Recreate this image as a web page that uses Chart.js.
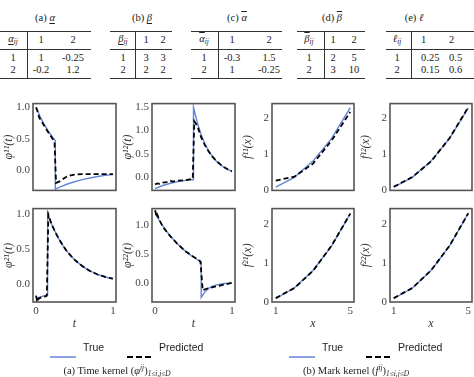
<!DOCTYPE html>
<html><head><meta charset="utf-8">
<script src="https://cdn.jsdelivr.net/npm/chart.js@4/dist/chart.umd.min.js"></script>
<style>
body{margin:0;width:474px;height:377px;position:relative;overflow:hidden;background:#fff;font-family:"Liberation Serif",serif;color:#222}
.abs{position:absolute;white-space:nowrap}
.c{transform:translateX(-50%)}
.tx{font-size:10.5px;line-height:12px}
.rule{position:absolute;background:#333}
sub{font-size:70%;vertical-align:-2px;line-height:0}
sup{font-size:70%;vertical-align:4px;line-height:0}
.i{font-style:italic}
.ul{text-decoration:underline;text-underline-offset:2px}
.ol{text-decoration:overline}
.leg{font-family:"Liberation Sans",sans-serif;font-size:10.5px;line-height:12px}
</style>
</head><body>
<script>
// ---------------- data ----------------
// parameter tables
const alphaLow  = [[1, -0.25], [-0.2, 1.2]];
const betaLow   = [[3, 3], [2, 2]];
const alphaHigh = [[-0.3, 1.5], [1, -0.25]];
const betaHigh  = [[2, 5], [3, 10]];
const ellTable  = [[0.25, 0.5], [0.15, 0.6]];
const tableCols = ['1', '2'];
const tableRows = ['1', '2'];

// time kernels (true / predicted)
const t11True = [0,0.05,0.1,0.15,0.2,0.25,0.25,0.3,0.4,0.5,0.6,0.7,0.8,0.9,1.0];
const v11True = [1.0,0.861,0.741,0.638,0.549,0.472,-0.300,-0.271,-0.222,-0.182,-0.149,-0.122,-0.100,-0.082,-0.067];
const t11Pred = [0,0.02,0.04,0.1,0.15,0.2,0.24,0.26,0.3,0.35,0.4,0.45,0.5,0.6,0.8,1.0];
const v11Pred = [1.0,0.93,0.84,0.72,0.62,0.53,0.45,-0.20,-0.18,-0.14,-0.10,-0.08,-0.07,-0.06,-0.06,-0.06];

const t12True = [0,0.1,0.2,0.3,0.4,0.5,0.5,0.55,0.6,0.65,0.7,0.75,0.8,0.85,0.9,0.95,1.0];
const v12True = [-0.25,-0.185,-0.137,-0.102,-0.075,-0.056,1.5,1.168,0.910,0.709,0.552,0.430,0.335,0.261,0.203,0.158,0.123];
const t12Pred = [0,0.03,0.06,0.1,0.15,0.2,0.22,0.3,0.4,0.49,0.51,0.55,0.6,0.65,0.7,0.75,0.8,0.85,0.9,0.95,1.0];
const v12Pred = [-0.16,-0.14,-0.15,-0.12,-0.11,-0.08,-0.10,-0.08,-0.07,-0.04,1.2,1.1,0.85,0.68,0.54,0.43,0.34,0.27,0.21,0.16,0.12];

const t21True = [0,0.05,0.1,0.15,0.15,0.2,0.25,0.3,0.35,0.4,0.5,0.6,0.7,0.8,0.9,1.0];
const v21True = [-0.2,-0.181,-0.164,-0.148,1.0,0.861,0.741,0.638,0.549,0.472,0.350,0.259,0.192,0.142,0.105,0.078];
const t21Pred = [0,0.01,0.02,0.03,0.05,0.1,0.14,0.16,0.2,0.25,0.3,0.35,0.4,0.5,0.6,0.7,0.8,0.9,1.0];
const v21Pred = [-0.16,-0.22,-0.18,-0.21,-0.19,-0.18,-0.16,0.99,0.86,0.74,0.64,0.55,0.47,0.35,0.26,0.19,0.14,0.105,0.08];

const t22True = [0,0.1,0.2,0.3,0.4,0.5,0.6,0.6,0.65,0.7,0.75,0.8,0.9,1.0];
const v22True = [1.2,0.982,0.804,0.659,0.539,0.441,0.361,-0.25,-0.152,-0.092,-0.056,-0.034,-0.012,-0.005];
const t22Pred = [0,0.01,0.02,0.03,0.05,0.1,0.15,0.2,0.3,0.4,0.5,0.59,0.62,0.65,0.7,0.8,0.9,1.0];
const v22Pred = [1.25,1.2,1.13,1.17,1.1,0.97,0.88,0.8,0.66,0.54,0.45,0.37,-0.13,-0.11,-0.09,-0.06,-0.03,0.0];

// mark kernels
const markX   = [1, 2, 3, 4, 5];
const f11True = [0.09, 0.36, 0.81, 1.44, 2.29];
const f11Pred = [0.27, 0.38, 0.74, 1.38, 2.17];
const f12True = [0.09, 0.36, 0.81, 1.44, 2.28];
const f12Pred = [0.10, 0.37, 0.80, 1.45, 2.30];
const f21True = [0.09, 0.36, 0.81, 1.44, 2.27];
const f21Pred = [0.10, 0.36, 0.80, 1.45, 2.27];
const f22True = [0.09, 0.36, 0.81, 1.44, 2.28];
const f22Pred = [0.10, 0.36, 0.81, 1.45, 2.28];

// ticks
const phiXTicks = [0, 1], phiXLabels = ['0', '1'];
const markXTicks = [1, 5], markXLabels = ['1', '5'];
const phiYTicks = [0, 0.5, 1.0], phiYLabels = ['0.0', '0.5', '1.0'];
const phi12YTicks = [0, 0.5, 1.0, 1.5], phi12YLabels = ['0.0', '0.5', '1.0', '1.5'];
const markYTicks = [0, 1, 2], markYLabels = ['0', '1', '2'];

// ---------------- tables ----------------
function el(html, cls, left, top, extra) {
  const d = document.createElement('div');
  d.className = 'abs ' + (cls || '');
  d.style.left = left + 'px'; d.style.top = top + 'px';
  if (extra) Object.assign(d.style, extra);
  d.innerHTML = html;
  document.body.appendChild(d);
  return d;
}
function rule(left, top, w, h) {
  const d = document.createElement('div');
  d.className = 'rule';
  Object.assign(d.style, {left: left + 'px', top: top + 'px', width: w + 'px', height: h + 'px'});
  document.body.appendChild(d);
}
function table(cfg) {
  const w = cfg.right - cfg.left;
  el(cfg.caption, 'tx c', cfg.capX, 12);
  rule(cfg.left, 30.5, w, 1.4);
  rule(cfg.left, 48.5, w, 0.8);
  rule(cfg.left, 78, w, 1.4);
  rule(cfg.barX, 32, 0.8, 16.5);
  rule(cfg.barX, 49.5, 0.8, 28.5);
  const cls = cfg.leftAlign ? 'tx' : 'tx c';
  el(cfg.head, 'tx c', cfg.headX, 33);
  tableCols.forEach((c, j) => el(c, cfg.leftAlign ? 'tx' : 'tx c', cfg.hdrX[j], 34));
  tableRows.forEach((r, i) => {
    const y = i === 0 ? 52 : 64;
    el(r, 'tx c', cfg.headX, y);
    cfg.data[i].forEach((v, j) => el(String(v), cls, cfg.colX[j], y));
  });
}
table({left:0, right:91, capX:45, caption:'(a) <span class="i ul">α</span>', head:'<span class="i ul">α</span><sub class="i">ij</sub>',
  headX:13, barX:27, hdrX:[41,73], colX:[41,73], data:alphaLow});
table({left:110, right:172, capX:142, caption:'(b) <span class="i ul">β</span>', head:'<span class="i ul">β</span><sub class="i">ij</sub>',
  headX:123, barX:135, hdrX:[146,163], colX:[146,163], data:betaLow});
table({left:191, right:282, capX:237, caption:'(c) <span class="i ol">α</span>', head:'<span class="i ol">α</span><sub class="i">ij</sub>',
  headX:204, barX:218, hdrX:[232,269], colX:[232,269], data:alphaHigh});
table({left:297, right:365, capX:332, caption:'(d) <span class="i ol">β</span>', head:'<span class="i ol">β</span><sub class="i">ij</sub>',
  headX:309, barX:324, hdrX:[333,354], colX:[333,354], data:betaHigh});
table({left:386, right:474, capX:414, caption:'(e) <span class="i">ℓ</span>', head:'<span class="i">ℓ</span><sub class="i">ij</sub>',
  headX:397, barX:411, hdrX:[421,449], colX:[421,449], data:ellTable, leftAlign:true});

// ---------------- charts ----------------
const BLUE = '#6585d9';
const TICKFONT = {family:'"Liberation Serif", serif', size:11};
const boxPlugin = {
  id:'box',
  afterDraw(chart) {
    const a = chart.chartArea, ctx = chart.ctx;
    ctx.save(); ctx.strokeStyle = '#555'; ctx.lineWidth = 1.6;
    ctx.strokeRect(a.left, a.top, a.right - a.left, a.bottom - a.top);
    ctx.restore();
  }
};
function pts(xs, ys) { return xs.map((x, i) => ({x:x, y:ys[i]})); }
function makeChart(c) {
  const YW = 33, bottomH = c.bottom ? 30 : 0;
  const wrap = document.createElement('div');
  wrap.className = 'abs';
  wrap.style.left = (c.boxLeft - YW) + 'px';
  wrap.style.top = (c.boxTop - 2) + 'px';
  const W = YW + c.boxW + 3, H = 2 + c.boxH + (c.bottom ? bottomH : 2);
  const cv = document.createElement('canvas');
  cv.width = W; cv.height = H; cv.style.width = W + 'px'; cv.style.height = H + 'px';
  wrap.appendChild(cv); document.body.appendChild(wrap);
  new Chart(cv, {
    type:'line',
    data:{datasets:[
      {data:c.pred, borderColor:'#000', borderWidth:1.8, borderDash:[5,3], pointRadius:0, tension:0, order:0},
      {data:c.truth, borderColor:BLUE, borderWidth:1.4, pointRadius:0, tension:0, order:1}
    ]},
    options:{
      responsive:false, animation:false, devicePixelRatio:1,
      layout:{padding:{top:2, right:3, left:0, bottom:c.bottom ? 0 : 2}},
      plugins:{legend:{display:false}, tooltip:{enabled:false}},
      scales:{
        x:{type:'linear', min:c.xMin, max:c.xMax,
          grid:{display:false, drawTicks:false}, border:{display:false},
          afterBuildTicks:s => { s.ticks = c.xTicks.map(v => ({value:v})); },
          afterFit:s => { s.height = bottomH; },
          ticks:{display:!!c.bottom, font:TICKFONT, color:'#444', padding:3, maxRotation:0,
            callback:(v, i) => c.xLabels[i]},
          title:{display:!!c.bottom, text:c.xTitle, font:{family:'"Liberation Serif", serif', size:12, style:'italic'}, color:'#333', padding:{top:0, bottom:1}}
        },
        y:{min:c.yMin, max:c.yMax,
          grid:{display:false, drawTicks:false}, border:{display:false},
          afterBuildTicks:s => { s.ticks = c.yTicks.map(v => ({value:v})); },
          afterFit:s => { s.width = YW; },
          ticks:{font:TICKFONT, color:'#444', padding:3, callback:(v, i) => c.yLabels[i]},
          title:{display:true, text:c.yTitle, font:{family:'"Liberation Serif", serif', size:12, style:'italic'}, color:'#333', padding:{top:2, bottom:0}}
        }
      }
    },
    plugins:[boxPlugin]
  });
}
const phiX = {xMin:-0.04, xMax:1.04, xTicks:phiXTicks, xLabels:phiXLabels, xTitle:'t'};
const markXcfg = {xMin:0.8, xMax:5.2, xTicks:markXTicks, xLabels:markXLabels, xTitle:'x'};
const row1 = {boxTop:96, boxH:102}, row2 = {boxTop:201, boxH:101, bottom:true};

makeChart(Object.assign({}, phiX, row1, {boxLeft:33, boxW:83, yMin:-0.32, yMax:1.06, yTicks:phiYTicks, yLabels:phiYLabels,
  yTitle:'φ¹¹(t)', truth:pts(t11True, v11True), pred:pts(t11Pred, v11Pred)}));
makeChart(Object.assign({}, phiX, row1, {boxLeft:152, boxW:83, yMin:-0.29, yMax:1.58, yTicks:phi12YTicks, yLabels:phi12YLabels,
  yTitle:'φ¹²(t)', truth:pts(t12True, v12True), pred:pts(t12Pred, v12Pred)}));
makeChart(Object.assign({}, phiX, row2, {boxLeft:33, boxW:83, yMin:-0.25, yMax:1.075, yTicks:phiYTicks, yLabels:phiYLabels,
  yTitle:'φ²¹(t)', truth:pts(t21True, v21True), pred:pts(t21Pred, v21Pred)}));
makeChart(Object.assign({}, phiX, row2, {boxLeft:152, boxW:83, yMin:-0.33, yMax:1.28, yTicks:phiYTicks, yLabels:phiYLabels,
  yTitle:'φ²²(t)', truth:pts(t22True, v22True), pred:pts(t22Pred, v22Pred)}));
makeChart(Object.assign({}, markXcfg, row1, {boxLeft:272, boxW:82, yMin:0, yMax:2.4, yTicks:markYTicks, yLabels:markYLabels,
  yTitle:'f¹¹(x)', truth:pts(markX, f11True), pred:pts(markX, f11Pred)}));
makeChart(Object.assign({}, markXcfg, row1, {boxLeft:390, boxW:82, yMin:0, yMax:2.4, yTicks:markYTicks, yLabels:markYLabels,
  yTitle:'f¹²(x)', truth:pts(markX, f12True), pred:pts(markX, f12Pred)}));
makeChart(Object.assign({}, markXcfg, row2, {boxLeft:272, boxW:82, yMin:0, yMax:2.4, yTicks:markYTicks, yLabels:markYLabels,
  yTitle:'f²¹(x)', truth:pts(markX, f21True), pred:pts(markX, f21Pred)}));
makeChart(Object.assign({}, markXcfg, row2, {boxLeft:390, boxW:82, yMin:0, yMax:2.4, yTicks:markYTicks, yLabels:markYLabels,
  yTitle:'f²²(x)', truth:pts(markX, f22True), pred:pts(markX, f22Pred)}));

// ---------------- legends ----------------
function legend(x0) {
  el('<svg width="26" height="4"><line x1="0" y1="2" x2="26" y2="2" stroke="' + BLUE + '" stroke-width="1.5"/></svg>', '', x0, 345);
  el('True', 'leg', x0 + 33, 341);
  el('<svg width="26" height="4"><line x1="0" y1="2" x2="26" y2="2" stroke="#000" stroke-width="1.8" stroke-dasharray="6,3"/></svg>', '', x0 + 77, 345);
  el('Predicted', 'leg', x0 + 109, 341);
}
legend(50);
legend(289);

// ---------------- captions ----------------
el('(a) Time kernel (<span class="i">φ</span><sup class="i">ij</sup>)<sub><span class="i">1≤i,j≤D</span></sub>', 'tx c', 117, 365);
el('(b) Mark kernel (<span class="i">f</span><sup class="i">ij</sup>)<sub><span class="i">1≤i,j≤D</span></sub>', 'tx c', 356, 365);
</script>
</body></html>
